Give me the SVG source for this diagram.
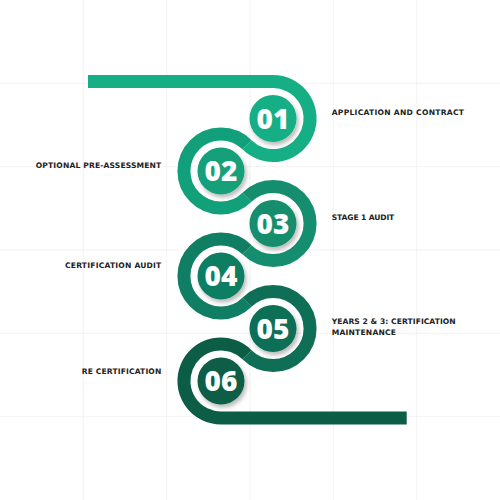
<svg xmlns="http://www.w3.org/2000/svg" width="500" height="500" viewBox="0 0 500 500">
  <defs>
    <filter id="sh" x="-40%" y="-40%" width="180%" height="180%">
      <feDropShadow dx="2" dy="3" stdDeviation="2" flood-color="#000" flood-opacity="0.28"/>
    </filter>
    <style>
      .grid line { stroke: #efefef; stroke-width: 0.8; }
      .seg { fill: none; stroke-width: 13; stroke-linecap: butt; }
      .num { font-family: "Open Sans", "DejaVu Sans", sans-serif; font-weight: 800; font-size: 28px; fill: #ffffff; text-anchor: middle; }
      .lbl { font-family: "DejaVu Sans", "Liberation Sans", sans-serif; font-weight: 700; font-size: 7.6px; fill: #222222; }
      .r { text-anchor: end; }
    </style>
  </defs>
  <rect width="500" height="500" fill="#ffffff"/>
  <g class="grid">
    <line x1="83.3" y1="0" x2="83.3" y2="500"/>
    <line x1="166.7" y1="0" x2="166.7" y2="500"/>
    <line x1="250" y1="0" x2="250" y2="500"/>
    <line x1="333.3" y1="0" x2="333.3" y2="500"/>
    <line x1="416.7" y1="0" x2="416.7" y2="500"/>
    <line x1="0" y1="83.3" x2="500" y2="83.3"/>
    <line x1="0" y1="166.7" x2="500" y2="166.7"/>
    <line x1="0" y1="250" x2="500" y2="250"/>
    <line x1="0" y1="333.3" x2="500" y2="333.3"/>
    <line x1="0" y1="416.7" x2="500" y2="416.7"/>
  </g>
  <g id="connectors">
    <path class="seg" stroke="#16AE84" d="M88 81.5 H273 A37 37 0 1 1 247 144.75"/>
    <path class="seg" stroke="#12A07A" d="M247 144.75 A37 37 0 1 0 247 197.25"/>
    <path class="seg" stroke="#148E6E" d="M247 197.25 A37 37 0 1 1 247 249.75"/>
    <path class="seg" stroke="#0F7E62" d="M247 249.75 A37 37 0 1 0 247 302.25"/>
    <path class="seg" stroke="#0E6F56" d="M247 302.25 A37 37 0 1 1 247 354.75"/>
    <path class="seg" stroke="#0C5D46" d="M247 354.75 A37 37 0 1 0 221 418 H406.7"/>
  </g>
  <g id="step01">
    <circle cx="273" cy="118.5" r="23.5" fill="#16AE84" filter="url(#sh)"/>
    <text class="num" x="273" y="128.5">01</text>
    <text class="lbl" x="331.7" y="115" textLength="132.3" lengthAdjust="spacing">APPLICATION AND CONTRACT</text>
  </g>
  <g id="step02">
    <circle cx="221" cy="171" r="23.5" fill="#12A07A" filter="url(#sh)"/>
    <text class="num" x="221" y="181">02</text>
    <text class="lbl r" x="161.3" y="168.3" textLength="125.6" lengthAdjust="spacing">OPTIONAL PRE-ASSESSMENT</text>
  </g>
  <g id="step03">
    <circle cx="273" cy="223.5" r="23.5" fill="#148E6E" filter="url(#sh)"/>
    <text class="num" x="273" y="233.5">03</text>
    <text class="lbl" x="331.7" y="220" textLength="62.6" lengthAdjust="spacing">STAGE 1 AUDIT</text>
  </g>
  <g id="step04">
    <circle cx="221" cy="276" r="23.5" fill="#0F7E62" filter="url(#sh)"/>
    <text class="num" x="221" y="286">04</text>
    <text class="lbl r" x="161.3" y="268.3" textLength="96.3" lengthAdjust="spacing">CERTIFICATION AUDIT</text>
  </g>
  <g id="step05">
    <circle cx="273" cy="328.5" r="23.5" fill="#0E6F56" filter="url(#sh)"/>
    <text class="num" x="273" y="338.5">05</text>
    <text class="lbl" x="331.7" y="324.3" textLength="124" lengthAdjust="spacing">YEARS 2 &amp; 3: CERTIFICATION</text>
    <text class="lbl" x="331.7" y="334.7" textLength="64.3" lengthAdjust="spacing">MAINTENANCE</text>
  </g>
  <g id="step06">
    <circle cx="221" cy="381" r="23.5" fill="#0C5D46" filter="url(#sh)"/>
    <text class="num" x="221" y="391">06</text>
    <text class="lbl r" x="161.3" y="374.3" textLength="79.6" lengthAdjust="spacing">RE CERTIFICATION</text>
  </g>
</svg>
